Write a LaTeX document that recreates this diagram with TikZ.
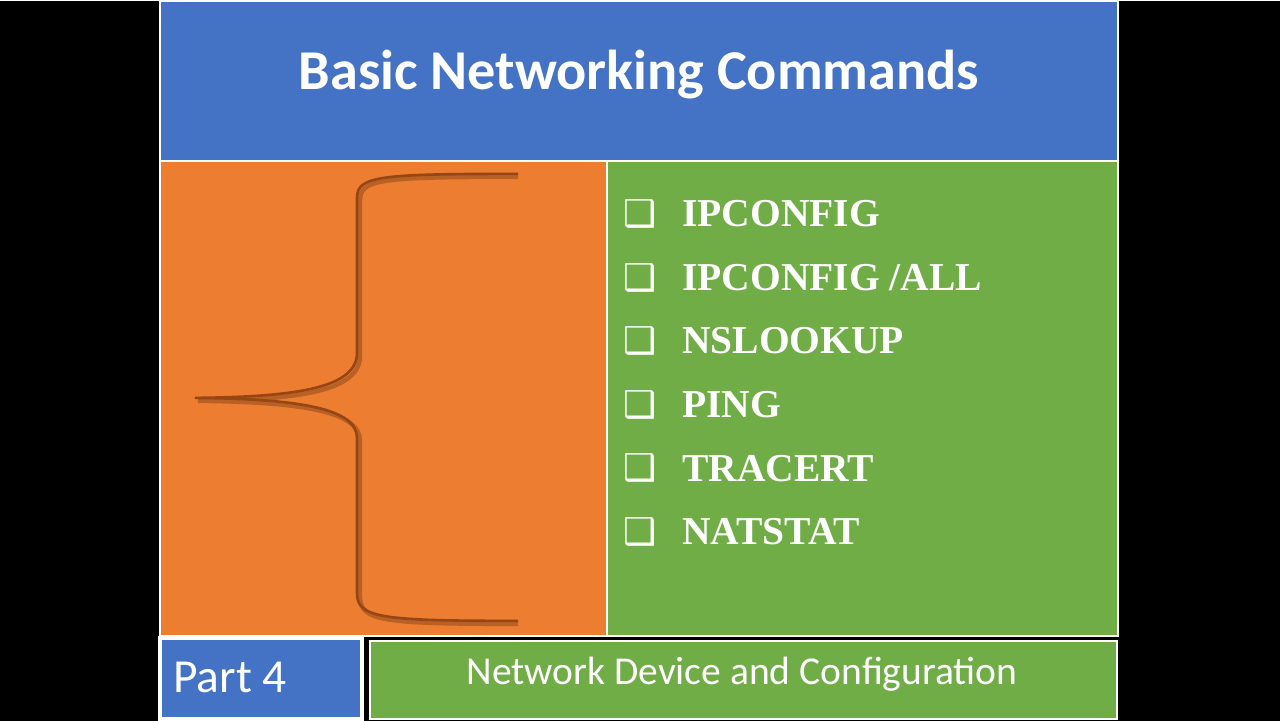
\documentclass[tikz,border=0pt]{standalone}
\usepackage{fontspec}
\setmainfont{Liberation Serif}
\newfontfamily\calib{Carlito}
\newfontfamily\symb{DejaVu Sans}
\usetikzlibrary{positioning}
\definecolor{topblue}{RGB}{68,114,196}
\definecolor{boxorange}{RGB}{237,125,49}
\definecolor{boxgreen}{RGB}{112,173,71}
\definecolor{bracebrown}{RGB}{150,70,20}
\begin{document}
\begin{tikzpicture}[x=0.02cm, y=-0.02cm,
    panel/.style={draw=white, line width=1pt},
    item/.style={anchor=west, text=white, font=\fontsize{22.5}{26}\selectfont\bfseries},
    tick/.style={anchor=center, text=white, font=\symb\bfseries\fontsize{21}{24}\selectfont}]
  \fill[black] (0,0) rectangle (1280,720);
  % Panels
  \filldraw[panel, fill=topblue] (160,0) rectangle (1118,160);
  \filldraw[panel, fill=boxorange] (160,160) rectangle (607,635);
  \filldraw[panel, fill=boxgreen] (607,160) rectangle (1118,635);
  \filldraw[draw=white, line width=2pt, fill=topblue] (160,637) rectangle (362,718);
  \filldraw[panel, fill=boxgreen] (370,640) rectangle (1117,718);
  % Title and footer
  \node[text=white, font=\calib\bfseries\fontsize{32}{36}\selectfont] (title) at (639,74) {Basic Networking Commands};
  \node[text=white, font=\calib\fontsize{27}{30}\selectfont, anchor=west] (part) at (167,677) {Part 4};
  \node[text=white, font=\calib\fontsize{22.5}{26}\selectfont] (topic) at (742,673) {Network Device and Configuration};
  % Brace
  \draw[bracebrown!60!black, line width=2.5pt, opacity=0.35]
    (518,176) .. controls (380,176) and (360,178) .. (360,200) -- (360,355)
    .. controls (360,390) and (300,399) .. (198,400)
    .. controls (300,401) and (360,410) .. (360,440) -- (360,595)
    .. controls (360,620) and (380,623) .. (518,623);
  \draw[bracebrown, line width=1.5pt]
    (518,173) .. controls (380,173) and (357,175) .. (357,197) -- (357,352)
    .. controls (357,387) and (297,396) .. (195,397)
    .. controls (297,398) and (357,407) .. (357,437) -- (357,592)
    .. controls (357,617) and (380,620) .. (518,620);
  % Commands
  \foreach \name [count=\i] in {IPCONFIG, IPCONFIG /ALL, NSLOOKUP, PING, TRACERT, NATSTAT} {
    \node[tick] (box\i) at (640,{213+63.6*(\i-1)}) {❑};
    \node[item] (cmd\i) at (676,{213+63.6*(\i-1)}) {\name};
  }
\end{tikzpicture}
\end{document}
